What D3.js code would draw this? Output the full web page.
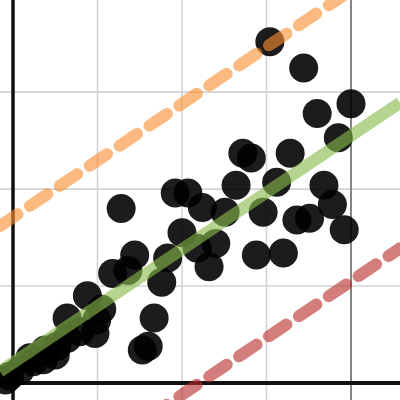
<!DOCTYPE html>
<html>
<head>
<meta charset="utf-8">
<script src="https://cdn.jsdelivr.net/npm/d3@7"></script>
<style>
html,body{margin:0;padding:0;background:#fff;overflow:hidden;}
svg{display:block;}
</style>
</head>
<body>
<svg id="chart" width="400" height="400"></svg>
<script>
const xs = [3.04,3.44,4.00,3.60,3.85,2.72,2.82,3.28,2.64,3.12,3.68,1.28,1.92,2.07,2.24,2.51,2.96,3.78,3.36,3.51,3.92,2.00,2.40,2.18,2.88,3.20,2.32,1.44,1.36,1.18,1.83,1.76,1.67,1.60,1.53,0.88,1.05,0.64,0.99,0.97,0.79,0.64,0.52,0.38,0.36,0.24,0.20,0.08,-0.04,-0.09,0.50];
const ys = [3.52,3.25,2.88,2.78,2.53,2.37,2.32,2.37,2.04,2.07,2.04,1.80,1.96,1.96,1.81,1.76,1.76,1.84,1.68,1.70,1.58,1.55,1.44,1.39,1.32,1.34,1.20,1.32,1.16,1.13,1.29,1.04,0.67,0.38,0.34,0.90,0.76,0.67,0.65,0.51,0.53,0.46,0.38,0.34,0.24,0.22,0.26,0.13,0.07,0.03,0.29];
const xTicks = [1,2,3];
const yTicks = [1,2,3];
const xMarker = [4];
const fitSlope = [0.585];
const fitIntercept = [0.21];
const bandOffsets = [1.5, 0, -1.5];

const W = 400, H = 400;
const x = d3.scaleLinear().domain([-0.154, 4.58]).range([0, W]);
const y = d3.scaleLinear().domain([-0.175, 3.95]).range([H, 0]);
const svg = d3.select('#chart');

// grid
svg.append('g').selectAll('line').data(xTicks).join('line')
  .attr('x1', d => x(d)).attr('x2', d => x(d)).attr('y1', 0).attr('y2', H)
  .attr('stroke', '#d3d3d3').attr('stroke-width', 1.6);
svg.append('g').selectAll('line').data(yTicks).join('line')
  .attr('y1', d => y(d)).attr('y2', d => y(d)).attr('x1', 0).attr('x2', W)
  .attr('stroke', '#d3d3d3').attr('stroke-width', 1.6);
svg.append('g').selectAll('line').data(xMarker).join('line')
  .attr('x1', d => x(d)).attr('x2', d => x(d)).attr('y1', 0).attr('y2', H)
  .attr('stroke', '#858585').attr('stroke-width', 2);

// axes spines
svg.append('line').attr('x1', x(0)).attr('x2', x(0)).attr('y1', 0).attr('y2', H)
  .attr('stroke', '#111').attr('stroke-width', 3.5);
svg.append('line').attr('x1', 0).attr('x2', W).attr('y1', y(0)).attr('y2', y(0))
  .attr('stroke', '#111').attr('stroke-width', 4);

// points
const pts = xs.map((v, i) => ({x: v, y: ys[i]}));
svg.append('g').selectAll('circle').data(pts).join('circle')
  .attr('cx', d => x(d.x)).attr('cy', d => y(d.y)).attr('r', 14.5)
  .attr('fill', '#000').attr('fill-opacity', 0.89);

// lines
const styles = [
  {color: 'rgb(250,142,50)', dash: '21,15'},
  {color: 'rgb(135,185,74)', dash: null},
  {color: 'rgb(185,45,45)', dash: '21,15'}
];
const xDom = x.domain();
const line = d3.line().x(d => x(d[0])).y(d => y(d[1]));
bandOffsets.forEach((off, i) => {
  const data = xDom.map(v => [v, fitIntercept[0] + off + fitSlope[0] * v]);
  const p = svg.append('path').attr('d', line(data))
    .attr('fill', 'none').attr('stroke', styles[i].color)
    .attr('stroke-opacity', 0.62).attr('stroke-width', 12)
    .attr('stroke-linecap', styles[i].dash ? 'round' : 'butt');
  if (styles[i].dash) p.attr('stroke-dasharray', styles[i].dash);
});
</script>
</body>
</html>
